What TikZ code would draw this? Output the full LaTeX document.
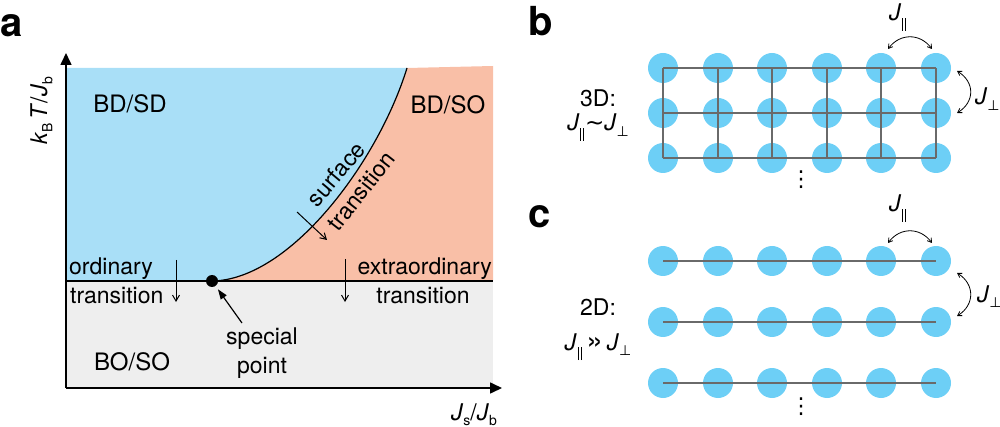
\documentclass[tikz,border=0pt]{standalone}
\usepackage{fontspec}
\setmainfont{TeX Gyre Heros}
\newfontfamily\dvfont{DejaVu Sans}
\usetikzlibrary{arrows.meta}
\definecolor{bluereg}{HTML}{A9DFF7}
\definecolor{salmonreg}{HTML}{F9BFA7}
\definecolor{greyreg}{HTML}{EEEEEE}
\definecolor{atomcol}{HTML}{6DCFF6}
\definecolor{bondcol}{HTML}{6A6A6A}
\newcommand{\lsub}[1]{\raisebox{-0.45ex}{\fontsize{14}{14}\selectfont #1}}
\newcommand{\parsub}{\hspace{1pt}\rule[-10pt]{0.9pt}{13pt}\hspace{1.8pt}\rule[-10pt]{0.9pt}{13pt}\hspace{1pt}}
\newcommand{\Jpar}{\textit{J}\parsub}
\newcommand{\Jperp}{\textit{J}\lsub{\dvfont ⊥}}
\begin{document}
\begin{tikzpicture}[x=1pt,y=-1pt,
  font=\fontsize{23}{27}\selectfont,
  lbl/.style={inner sep=0pt},
  big/.style={inner sep=0pt, font=\fontsize{24}{28}\selectfont},
  panel/.style={inner sep=0pt, font=\fontsize{40}{40}\selectfont\bfseries},
  atom/.style={circle, fill=atomcol, minimum size=30pt, inner sep=0pt, draw=none},
  bondline/.style={draw=bondcol, line width=1.9pt},
  axisline/.style={line width=1.6pt, -{Triangle[length=12pt,width=11pt]}},
  smallarrow/.style={line width=1pt, -{Straight Barb[length=6pt,width=7pt]}},
  arcarrow/.style={line width=0.8pt, {Straight Barb[length=4pt,width=5pt]}-{Straight Barb[length=4pt,width=5pt]}}
]
\useasboundingbox (0,0) rectangle (1000,427);

% ---------- panel a ----------
\coordinate (o) at (66,388);
\coordinate (ytop) at (66,53);
\coordinate (xend) at (502,388);
\coordinate (lineL) at (66,281);
\coordinate (lineR) at (493,281);
\coordinate (ctop) at (407,68);

\fill[greyreg] (66,281) rectangle (493,388);
\fill[bluereg] (66,68) -- (ctop) .. controls (378,162) and (290,280) .. (212,281) -- (lineL) -- cycle;
\fill[salmonreg] (ctop) -- (493,66) -- (lineR) -- (212,281) .. controls (290,280) and (378,162) .. (ctop) -- cycle;

\draw[line width=1.2pt] (lineL) -- (lineR);
\draw[line width=1.2pt] (212,281) .. controls (290,280) and (378,162) .. (ctop);
\node[circle, fill=black, minimum size=12pt, inner sep=0pt] (sp) at (212,281) {};

\draw[axisline] (o) -- (ytop);
\draw[axisline] (o) -- (xend);

\node[panel, anchor=base west] (la) at (0,37) {a};

\node[big, anchor=base] (bdsd) at (130,113) {BD/SD};
\node[big, anchor=base] (bdso) at (448,114) {BD/SO};
\node[big, anchor=base] (boso) at (132,370) {BO/SO};

\node[lbl, anchor=base west] (ord1) at (69,275) {ordinary};
\node[lbl, anchor=base west] (ord2) at (70,303) {transition};
\node[lbl, anchor=base east] (ext1) at (492,275) {extraordinary};
\node[lbl, anchor=base] (ext2) at (423,303) {transition};

\node[lbl, anchor=base] (sp1) at (262,344) {special};
\node[lbl, anchor=base] (sp2) at (262,373) {point};

\node[lbl, rotate=50] (surf1) at (336,174) {surface};
\node[lbl, rotate=52] (surf2) at (361,191) {transition};

\coordinate (a1s) at (176,260); \coordinate (a1e) at (176,302);
\coordinate (a2s) at (345,259); \coordinate (a2e) at (345,302);
\coordinate (a3s) at (297,212); \coordinate (a3e) at (327,240);
\draw[smallarrow] (a1s) -- (a1e);
\draw[smallarrow] (a2s) -- (a2e);
\draw[smallarrow] (a3s) -- (a3e);

\coordinate (spt) at (242,323);
\draw[line width=1.2pt, -{Triangle[length=10pt,width=7pt]}, shorten >=4pt] (spt) -- (sp);

\node[lbl, anchor=base west, rotate=90] (ylab) at (47,145) {\textit{k}\lsub{B}\,\textit{T}/\textit{J}\lsub{b}};
\node[lbl, anchor=base east] (xlab) at (497,420) {\textit{J}\lsub{s}/\textit{J}\lsub{b}};

% ---------- panel b ----------
\node[panel, anchor=base west] (lb) at (528,36) {b};
\foreach \c [count=\i] in {663,718,772,827,881,936}{
  \foreach \r [count=\j] in {68,113,158}{
    \node[atom] (b\j\i) at (\c,\r) {};
  }
}
\foreach \i in {1,...,6}{ \draw[bondline] (b1\i.center) -- (b3\i.center); }
\foreach \j in {1,2,3}{ \draw[bondline] (b\j1.center) -- (b\j6.center); }
\node[lbl, font=\fontsize{22}{22}\dvfont] (bdots) at (801,180) {⋮};

\node[lbl, anchor=base] (b3d) at (598,107) {3D:};
\node[lbl, anchor=base] (b3dj) at (598,131) {\Jpar{\dvfont ∼}\Jperp};

\coordinate (bp1) at (888,49); \coordinate (bp2) at (932,49);
\draw[arcarrow] (bp1) .. controls (900,33) and (920,33) .. (bp2);
\node[lbl, anchor=base west] (bjpar) at (889,21) {\Jpar};
\coordinate (bq1) at (957,71); \coordinate (bq2) at (957,113);
\draw[arcarrow] (bq1) .. controls (975,82) and (975,102) .. (bq2);
\node[lbl, anchor=base west] (bjperp) at (975,105) {\Jperp};

% ---------- panel c ----------
\node[panel, anchor=base west] (lc) at (528,228) {c};
\foreach \c [count=\i] in {663,718,772,827,881,936}{
  \foreach \r [count=\j] in {261,322,383}{
    \node[atom] (c\j\i) at (\c,\r) {};
  }
}
\foreach \j in {1,2,3}{ \draw[bondline] (c\j1.center) -- (c\j6.center); }
\node[lbl, font=\fontsize{22}{22}\dvfont] (cdots) at (801,407) {⋮};

\node[lbl, anchor=base] (c2d) at (598,315) {2D:};
\node[lbl, anchor=base] (c2dj) at (598,350) {\Jpar\,{\fontsize{30}{30}\selectfont»}\,\Jperp};

\coordinate (cp1) at (888,243); \coordinate (cp2) at (932,243);
\draw[arcarrow] (cp1) .. controls (900,227) and (920,227) .. (cp2);
\node[lbl, anchor=base west] (cjpar) at (889,212) {\Jpar};
\coordinate (cq1) at (957,273); \coordinate (cq2) at (957,316);
\draw[arcarrow] (cq1) .. controls (975,284) and (975,305) .. (cq2);
\node[lbl, anchor=base west] (cjperp) at (977,302) {\Jperp};
\end{tikzpicture}
\end{document}
